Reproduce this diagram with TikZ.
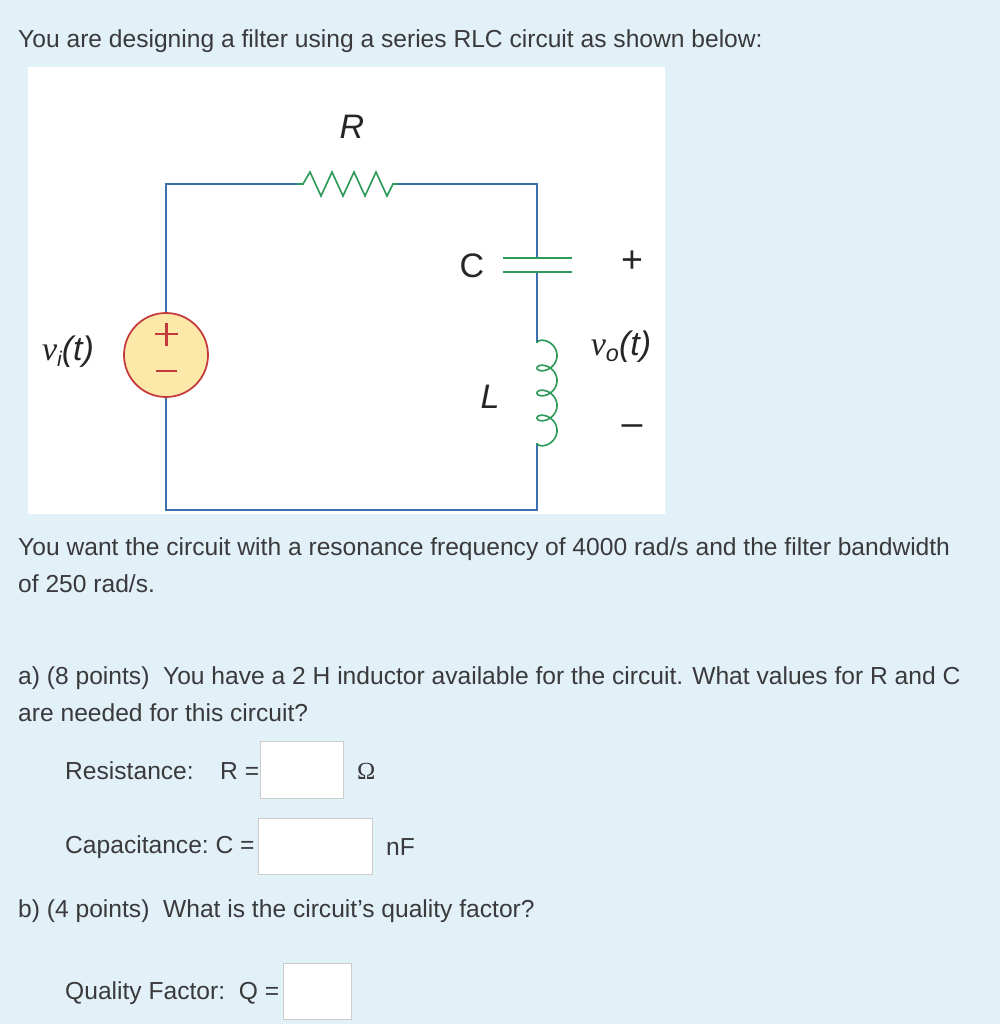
\documentclass[tikz,border=0pt]{standalone}
\usepackage{fontspec}
\setmainfont{Liberation Sans}
\newfontfamily\serfont{Liberation Serif}
\begin{document}
\begin{tikzpicture}[x=0.03cm,y=-0.03cm,
  wire/.style={draw=wireblue,line width=1.3pt},
  comp/.style={draw=compgreen,line width=1.4pt},
  txt/.style={anchor=west,inner sep=0pt,font=\fontsize{21}{25}\selectfont,text=textgray},
  lab/.style={inner sep=0pt,font=\fontsize{29}{32}\selectfont\itshape,text=black!85},
  ansbox/.style={draw=black!20,fill=white,line width=0.6pt}]
\definecolor{bg}{HTML}{E2F0F8}
\definecolor{wireblue}{HTML}{3D6FAE}
\definecolor{compgreen}{HTML}{2E9A5A}
\definecolor{srcred}{HTML}{C43A3C}
\definecolor{srcfill}{HTML}{FCE9A9}
\definecolor{textgray}{HTML}{3A3A3C}
\useasboundingbox (0,0) rectangle (1000,1024);
\fill[bg] (0,0) rectangle (1000,1024);
\fill[white] (28,67) rectangle (665,514);
% wires
\coordinate (tl) at (166,184); \coordinate (tr) at (537,184);
\coordinate (bl) at (166,510); \coordinate (br) at (537,510);
\coordinate (r1) at (297,184); \coordinate (r2) at (398,184);
\node[circle,draw=srcred,fill=srcfill,line width=1.5pt,minimum size=84*0.03cm,inner sep=0pt] (src) at (166,355) {};
\draw[wire] (src.north) -- (tl) -- (r1);
\draw[wire] (r2) -- (tr) -- (537,258);
\draw[wire] (537,272) -- (537,343);
\draw[wire] (537,443) -- (br) -- (bl) -- (src.south);
% resistor
\draw[comp,line join=miter] (r1) -- (303,184) -- (310,172) -- (321,196) -- (332,172) -- (343,196) -- (354,172) -- (365,196) -- (376,172) -- (387,196) -- (393,184) -- (r2);
% capacitor
\draw[comp] (503,258) -- (572,258);
\draw[comp] (503,272) -- (572,272);
% inductor
\draw[comp,smooth] plot[domain=0:1440,samples=240] ({537+10*(1-cos(\x))},{343+\x/14.4-8*sin(\x)});
% source signs
\draw[srcred,line width=1.8pt] (155,334) -- (178,334) (166.5,323) -- (166.5,346);
\draw[srcred,line width=1.8pt] (156,371) -- (177,371);
% labels
\node[lab] (lR) at (352,127) {R};
\node[lab] (lC) at (472,266) {\upshape C};
\node[lab] (lL) at (490,397) {L};
\node[lab,font=\fontsize{32}{34}\selectfont] (lp) at (632,262) {+};
\node[lab,font=\fontsize{32}{34}\selectfont] (lm) at (632,430) {–};
\node[lab] (lvi) at (68,352) {{\serfont\itshape v}\raisebox{-0.3ex}{\fontsize{18}{18}\selectfont\itshape i}(\textit{t})};
\node[lab] (lvo) at (621,347) {{\serfont\itshape v}\raisebox{-0.3ex}{\fontsize{20}{20}\selectfont o}(\textit{t})};
% text
\node[txt] (t1) at (18,41) {You are designing a filter using a series RLC circuit as shown below:};
\node[txt] (t2) at (18,549) {You want the circuit with a resonance frequency of 4000 rad/s and the filter bandwidth};
\node[txt] (t3) at (18,584) {of 250 rad/s.};
\node[txt] (t4) at (18,678) {a) (8 points)\ \ You have a 2 H inductor available for the circuit. What values for R and C};
\node[txt] (t5) at (18,713) {are needed for this circuit?};
\node[txt] (t6) at (65,771) {Resistance:};
\node[txt] (t6b) at (220,771) {R =};
\draw[ansbox] (260,741) rectangle (343,798);
\node[txt] (t7) at (357,771) {\serfont Ω};
\node[txt] (t8) at (65,847) {Capacitance:\ C =};
\draw[ansbox] (258,818) rectangle (372,874);
\node[txt] (t9) at (386,847) {nF};
\node[txt] (t10) at (18,911) {b) (4 points)\ \ What is the circuit's quality factor?};
\node[txt] (t11) at (65,993) {Quality Factor:\ \ Q =};
\draw[ansbox] (283,963) rectangle (351,1019);
\end{tikzpicture}
\end{document}
